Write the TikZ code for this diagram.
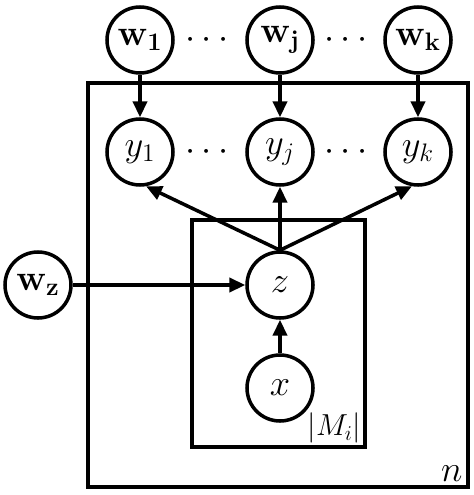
\documentclass[tikz,border=0pt]{standalone}
\usepackage{amsfonts}
\usepackage{amsmath}
\usetikzlibrary{positioning,arrows.meta}
\tikzset{
	node distance=2.8cm,
	on grid,
	rv/.style = {
		shape=circle,
		draw,
		line width=2pt,
		minimum size=1.32cm,
		inner sep=0pt,
		font=\huge
	},
	param/.style = {
		rv,
		font=\huge
	},
	dots/.style = {
		font=\huge,
		inner sep=0pt
	},
	link/.style = {
		-{Triangle[length=9pt,width=8pt]},
		line width=2pt
	},
	plate/.style = {
		draw,
		line width=2pt
	}
}

\begin{document}
\begin{tikzpicture}
	\useasboundingbox (0,0) rectangle (9.48,-9.9);
	% plates
	\coordinate (outerNW) at (1.76,-1.66);
	\coordinate (outerSE) at (9.36,-9.74);
	\coordinate (innerNW) at (3.84,-4.4);
	\coordinate (innerSE) at (7.3,-8.94);
	\draw[plate] (outerNW) rectangle (outerSE);
	\draw[plate] (innerNW) rectangle (innerSE);
	\node[anchor=south east, font=\LARGE, inner sep=2pt] (Mlabel) at (innerSE) {$|M_i|$};
	\node[anchor=south east, font=\huge, inner sep=3pt] (nlabel) at (outerSE) {$n$};
	% weights
	\node[param] (w1) at (2.8,-0.8) {$\mathbf{w}_{\mathbf{1}}$};
	\node[param, right=of w1] (wj) {$\mathbf{w}_{\mathbf{j}}$};
	\node[param, right=2.76cm of wj] (wk) {$\mathbf{w}_{\mathbf{k}}$};
	\node[dots, right=1.4cm of w1] (dw1) {$\cdots$};
	\node[dots, right=1.38cm of wj] (dw2) {$\cdots$};
	% outputs
	\node[rv, below=2.24cm of w1] (y1) {$y_1$};
	\node[rv, below=2.24cm of wj] (yj) {$y_j$};
	\node[rv, below=2.24cm of wk] (yk) {$y_k$};
	\node[dots, right=1.4cm of y1] (dy1) {$\cdots$};
	\node[dots, right=1.38cm of yj] (dy2) {$\cdots$};
	% latent and input
	\node[rv, below=2.66cm of yj] (z) {$z$};
	\node[rv, below=2.06cm of z] (x) {$x$};
	\node[param, left=4.84cm of z] (wz) {$\mathbf{w}_{\mathbf{z}}$};
	% edges
	\draw[link] (w1) -- (y1);
	\draw[link] (wj) -- (yj);
	\draw[link] (wk) -- (yk);
	\draw[link] (z.north) -- (y1.-80);
	\draw[link] (z.north) -- (yj);
	\draw[link] (z.north) -- (yk.-100);
	\draw[link] (wz) -- (z);
	\draw[link] (x) -- (z);
\end{tikzpicture}
\end{document}
